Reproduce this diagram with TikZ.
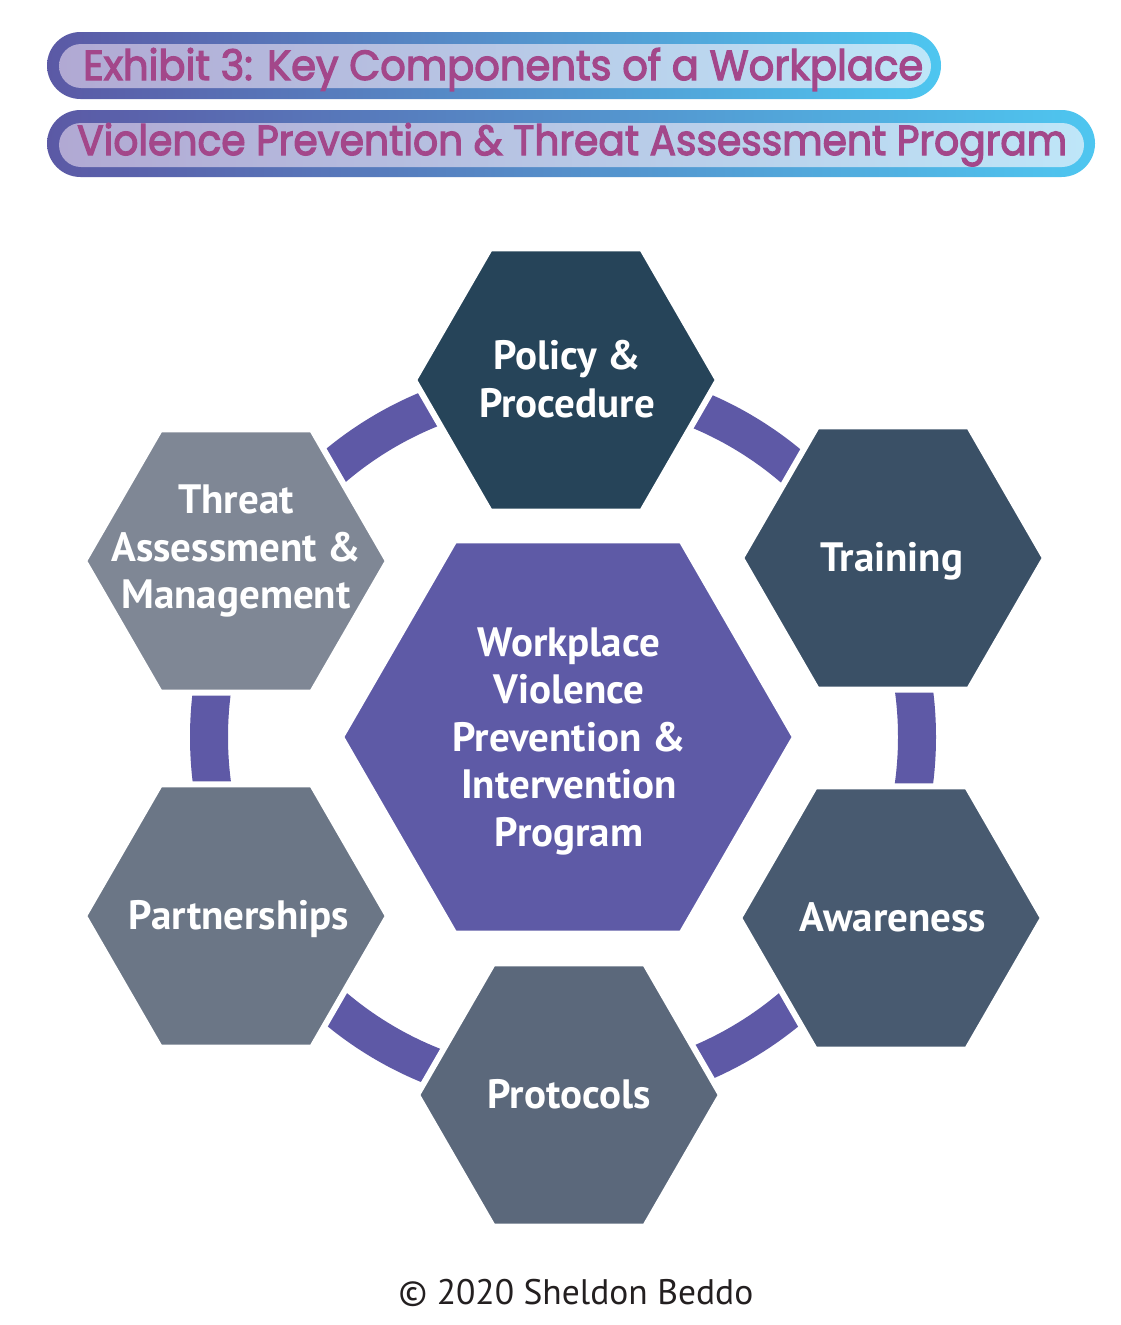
\documentclass[tikz,border=0pt]{standalone}
\usepackage{fontspec}
\usepackage{graphicx}
\setmainfont{PT Sans}
\newfontfamily\titlefont[FakeBold=3]{Poppins}
\usetikzlibrary{shapes.geometric}
\definecolor{ringc}{HTML}{5E59A6}
\definecolor{polc}{HTML}{264459}
\definecolor{trac}{HTML}{3A5066}
\definecolor{awac}{HTML}{485A70}
\definecolor{proc}{HTML}{5B687B}
\definecolor{parc}{HTML}{6B7686}
\definecolor{thrc}{HTML}{7F8795}
\definecolor{cenc}{HTML}{5E5AA6}
\definecolor{outerL}{HTML}{5B59A5}
\definecolor{outerR}{HTML}{4EC6F0}
\definecolor{innerL}{HTML}{B1A9D3}
\definecolor{innerR}{HTML}{BEE6F8}
\definecolor{titlec}{HTML}{A3478A}
\definecolor{copyc}{HTML}{231F20}
\begin{document}
\begin{tikzpicture}[x=1pt,y=-1pt,
  hexa/.style={regular polygon, regular polygon sides=6, shape border rotate=0,
    draw=white, line width=6pt, inner sep=0pt, minimum size=#1},
  hexa/.default=304pt,
  lbl/.style={text=white, align=center, inner sep=0pt,
    font=\fontsize{41}{47.5}\selectfont\bfseries},
  ttl/.style={text=titlec, inner sep=0pt, anchor=base west,
    font=\titlefont\fontsize{42}{48}\selectfont},
  outerpill/.style={left color=outerL, right color=outerR, rounded corners=33.5pt},
  innerpill/.style={left color=innerL, right color=innerR, rounded corners=22pt}]
\useasboundingbox (0,0) rectangle (1121,1325);
\fill[white] (0,0) rectangle (1121,1325);

% title bars
\shade[outerpill] (47,32) rectangle (941,99);
\shade[innerpill] (59,44) rectangle (931,88);
\shade[outerpill] (47,110) rectangle (1095,177);
\shade[innerpill] (59,123) rectangle (1084,167);
\node[ttl] (t1) at (83,80) {\resizebox{840pt}{\height}{Exhibit 3: Key Components of a Workplace}};
\node[ttl] (t2) at (77,155) {\resizebox{990pt}{\height}{Violence Prevention \& Threat Assessment Program}};

% ring
\coordinate (rc) at (563,737);
\draw[ringc, line width=38pt] (rc) circle[radius=354];

% hexagons
\node[hexa, fill=polc] (pol) at (566,380) {};
\node[hexa, fill=trac] (tra) at (893,558) {};
\node[hexa, fill=awac] (awa) at (891,918) {};
\node[hexa, fill=proc] (pro) at (569,1095) {};
\node[hexa, fill=parc] (par) at (236,916) {};
\node[hexa, fill=thrc] (thr) at (236,561) {};
\node[hexa=454pt, fill=cenc] (cen) at (568,737) {};

% labels
\node[lbl] (polt) at (567,379) {Policy \&\\Procedure};
\node[lbl] (trat) at (892,561) {Training};
\node[lbl] (awat) at (893,917) {Awareness};
\node[lbl] (prot) at (569,1094) {Protocols};
\node[lbl] (part) at (239,919) {Partnerships};
\node[lbl] (thrt) at (236,551) {Threat\\Assessment \&\\Management};
\node[lbl] (cent) at (569,741) {Workplace\\Violence\\Prevention \&\\Intervention\\Program};

% copyright
\node[anchor=base, inner sep=0pt, text=copyc, font=\fontsize{35.5}{40}\selectfont] (copy) at (576,1304) {© 2020 Sheldon Beddo};
\end{tikzpicture}
\end{document}
